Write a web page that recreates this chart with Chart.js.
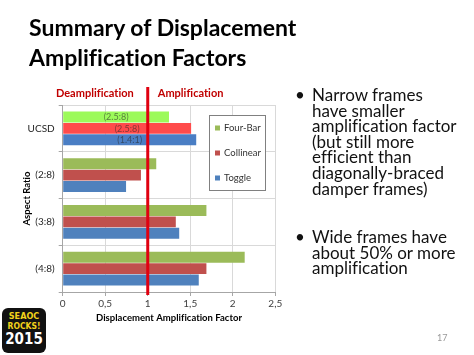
<!DOCTYPE html>
<html><head><meta charset="utf-8">
<script src="https://cdn.jsdelivr.net/npm/chart.js@4/dist/chart.umd.min.js"></script>
<style>
html,body{margin:0;padding:0;background:#fff;}
#slide{position:relative;width:474px;height:355px;overflow:hidden;font-family:Lato,"Open Sans",sans-serif;font-variant-ligatures:none;}
#c{position:absolute;left:0;top:0;}
#title{position:absolute;left:29px;top:12px;font-weight:bold;font-size:23px;line-height:30px;color:#000;white-space:nowrap;}
#bullets{position:absolute;left:295px;top:87px;font-size:17px;line-height:15.6px;color:#111;}
.b{position:relative;padding-left:17px;white-space:nowrap;}
.b:before{content:"•";position:absolute;left:0;top:0;}
#logo{position:absolute;left:2px;top:308px;width:44px;height:45px;background:#111;border-radius:6px;color:#f2d21b;font-weight:bold;font-family:"DejaVu Sans Condensed","DejaVu Sans",sans-serif;text-align:center;}
#pg{position:absolute;left:437px;top:332px;font-size:9px;color:#999;}
</style></head>
<body><div id="slide">
<canvas id="c" width="474" height="355"></canvas>
<div id="title">Summary of Displacement<br>Amplification Factors</div>
<div id="bullets">
<div class="b">Narrow frames<br>have smaller<br>amplification factor<br>(but still more<br>efficient than<br>diagonally-braced<br>damper frames)</div>
<div class="b" style="margin-top:33px">Wide frames have<br>about 50% or more<br>amplification</div>
</div>
<div id="logo"><div style="font-size:9px;line-height:9px;padding-top:4px">SEAOC</div><div style="font-size:8.5px;line-height:10px">ROCKS!</div><div style="font-size:15px;line-height:16px;color:#fff">2015</div></div>
<div id="pg">17</div>
</div>
<script>
const categories = ['UCSD', '(2:8)', '(3:8)', '(4:8)'];
const seriesNames = ['Four-Bar', 'Collinear', 'Toggle'];
const fourBar = [1.25, 1.10, 1.69, 2.14];
const collinear = [1.51, 0.92, 1.33, 1.69];
const toggle = [1.57, 0.745, 1.37, 1.60];
const ucsdLabels = ['(2.5:8)', '(2.5:8)', '(1.4:1)'];
const xTickLabels = ['0', '0,5', '1', '1,5', '2', '2,5'];
const thresholdValue = 1;
const zoneLabels = ['Deamplification', 'Amplification'];

const baseColors = ['#9BBB59', '#C0504D', '#4F81BD'];
const ucsdColors = ['#9CFA5A', '#FF4B4B', '#4A7EC4'];

function colorsFor(i, n) {
  const arr = [];
  for (let k = 0; k < n; k++) arr.push(k === 0 ? ucsdColors[i] : baseColors[i]);
  return arr;
}

const dataSets = [fourBar, collinear, toggle].map((d, i) => ({
  label: seriesNames[i],
  data: d,
  backgroundColor: colorsFor(i, d.length),
  borderWidth: 0,
  barPercentage: 0.95,
  categoryPercentage: 0.73
}));

const overlay = {
  id: 'overlay',
  beforeDraw(chart) {
    chart.ctx.textRendering = 'optimizeSpeed';
    chart.ctx.letterSpacing = '0.01px';
  },
  afterDatasetsDraw(chart) {
    const ctx = chart.ctx;
    const xs = chart.scales.x;
    const area = chart.chartArea;
    // labels inside UCSD bars
    ctx.save();
    ctx.font = '9px Lato, sans-serif';
    ctx.fillStyle = 'rgba(40,40,40,0.6)';
    ctx.textAlign = 'center';
    ctx.textBaseline = 'middle';
    chart.data.datasets.forEach((ds, i) => {
      const el = chart.getDatasetMeta(i).data[0];
      const cx = (el.x + el.base) / 2;
      ctx.fillText(ucsdLabels[i], cx, el.y + 0.5);
    });
    ctx.restore();
    // threshold line
    const px = xs.getPixelForValue(thresholdValue);
    ctx.save();
    ctx.strokeStyle = '#E00010';
    ctx.lineWidth = 3;
    ctx.beginPath();
    ctx.moveTo(px, area.top - 18);
    ctx.lineTo(px, area.bottom + 3);
    ctx.stroke();
    ctx.font = 'bold 11px Lato, sans-serif';
    ctx.fillStyle = '#C00000';
    ctx.textBaseline = 'middle';
    ctx.textAlign = 'right';
    ctx.fillText(zoneLabels[0], px - 14, area.top - 12);
    ctx.textAlign = 'left';
    ctx.fillText(zoneLabels[1], px + 10, area.top - 12);
    ctx.restore();
    // legend box
    const lx = 209, ly = 115, lw = 56, lh = 75;
    ctx.save();
    ctx.fillStyle = '#fff';
    ctx.fillRect(lx, ly, lw, lh);
    ctx.strokeStyle = '#808080';
    ctx.lineWidth = 1;
    ctx.strokeRect(lx + 0.5, ly + 0.5, lw, lh);
    ctx.font = '9.5px Lato, sans-serif';
    ctx.textBaseline = 'middle';
    ctx.textAlign = 'left';
    chart.data.datasets.forEach((ds, i) => {
      const yy = ly + 13 + i * 25;
      ctx.fillStyle = baseColors[i];
      ctx.fillRect(lx + 6, yy - 2.5, 5, 5);
      ctx.fillStyle = '#333';
      ctx.fillText(ds.label, lx + 15, yy);
    });
    ctx.restore();
  }
};

new Chart(document.getElementById('c'), {
  type: 'bar',
  data: { labels: categories, datasets: dataSets },
  options: {
    indexAxis: 'y',
    responsive: false,
    animation: false,
    layout: { padding: { left: 21, top: 105, right: 198.7, bottom: 31 } },
    plugins: { legend: { display: false }, tooltip: { enabled: false } },
    scales: {
      x: {
        min: 0, max: 2.5,
        ticks: { stepSize: 0.5, color: '#404040', font: { family: 'Lato', size: 10 }, padding: 2,
          callback: (v, i) => xTickLabels[i] },
        grid: { color: '#D9D9D9', tickLength: 4, tickColor: '#A6A6A6' },
        border: { color: '#A6A6A6' },
        title: { display: true, text: 'Displacement Amplification Factor', color: '#000',
          font: { family: 'Lato', size: 9.5, weight: 'bold' }, padding: 0 },
        afterFit: s => { s.height = 32; }
      },
      y: {
        ticks: { color: '#262626', font: { family: 'Lato', size: 10 }, padding: 4 },
        grid: { color: '#D9D9D9', tickLength: 4, tickColor: '#A6A6A6' },
        border: { color: '#A6A6A6' },
        title: { display: true, text: 'Aspect Ratio', color: '#000',
          font: { family: 'Lato', size: 9.5, weight: 'bold' }, padding: 0 },
        afterFit: s => { s.width = 41.7; }
      }
    }
  },
  plugins: [overlay]
});
</script>
</body></html>
